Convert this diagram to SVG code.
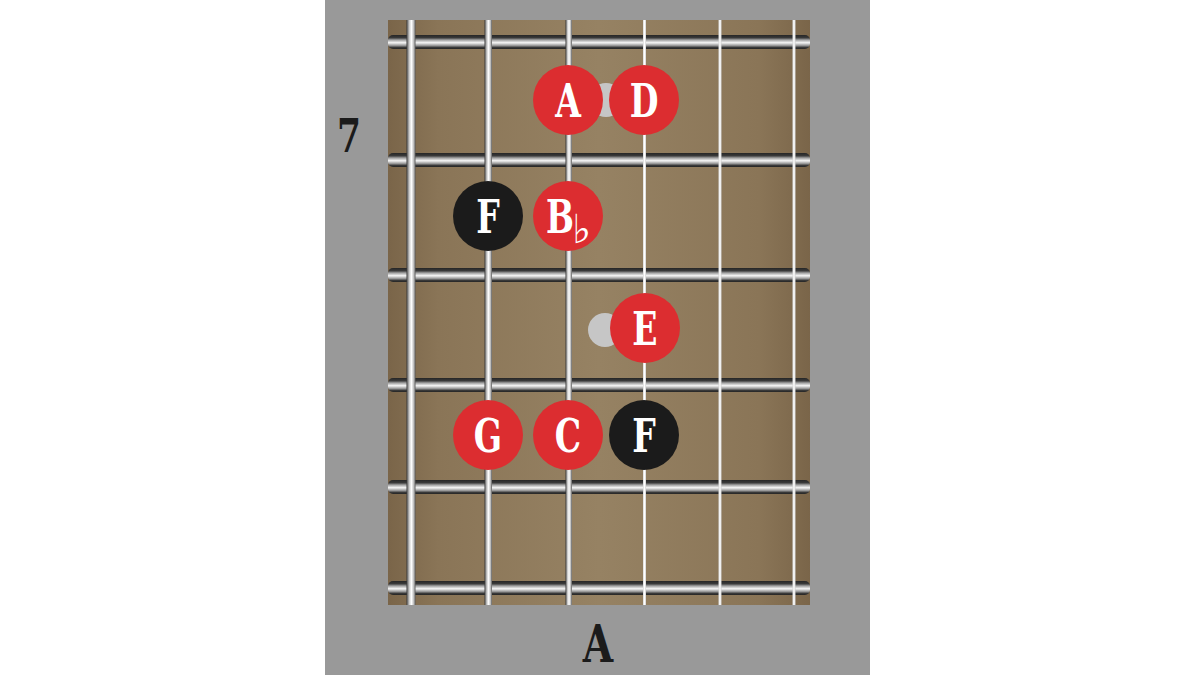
<svg xmlns="http://www.w3.org/2000/svg" width="1200" height="675" viewBox="0 0 1200 675">
<defs>
  <linearGradient id="wood" x1="0" y1="0" x2="1" y2="0">
    <stop offset="0" stop-color="#7a6549"/>
    <stop offset="0.12" stop-color="#8a7557"/>
    <stop offset="0.5" stop-color="#968263"/>
    <stop offset="0.88" stop-color="#8a7557"/>
    <stop offset="1" stop-color="#7a6549"/>
  </linearGradient>
  <linearGradient id="fret" x1="0" y1="0" x2="0" y2="1">
    <stop offset="0" stop-color="#262626"/>
    <stop offset="0.2" stop-color="#3a3a3a"/>
    <stop offset="0.35" stop-color="#a0a0a0"/>
    <stop offset="0.55" stop-color="#f6f6f6"/>
    <stop offset="0.75" stop-color="#9a9a9a"/>
    <stop offset="0.9" stop-color="#333"/>
    <stop offset="1" stop-color="#262626"/>
  </linearGradient>
  <linearGradient id="wound" x1="0" y1="0" x2="1" y2="0">
    <stop offset="0" stop-color="#3a3a3a"/>
    <stop offset="0.3" stop-color="#c8c8c8"/>
    <stop offset="0.55" stop-color="#ffffff"/>
    <stop offset="0.8" stop-color="#bdbdbd"/>
    <stop offset="1" stop-color="#5a5a5a"/>
  </linearGradient>
  <linearGradient id="plain" x1="0" y1="0" x2="1" y2="0">
    <stop offset="0" stop-color="#d8d8d8"/>
    <stop offset="0.5" stop-color="#ffffff"/>
    <stop offset="1" stop-color="#d0d0d0"/>
  </linearGradient>
  <style>
    .fret { fill: url(#fret); }
    .wound { fill: url(#wound); }
    .plain { fill: url(#plain); }
    .inlay { fill: #c6c6c6; }
    .red { fill: #dc2d30; }
    .blk { fill: #1b1b1b; }
    .lbl { font-family: "DejaVu Serif", "Liberation Serif", serif; font-weight: bold; font-size: 46px; fill: #ffffff; text-anchor: middle; }
    .flat { font-family: "DejaVu Sans", "Liberation Sans", sans-serif; font-size: 40px; fill: #ffffff; }
    .big { font-family: "DejaVu Serif", "Liberation Serif", serif; font-weight: bold; fill: #1b1b1b; text-anchor: middle; }
  </style>
</defs>
<rect x="0" y="0" width="1200" height="675" fill="#ffffff"/>
<rect x="325" y="0" width="545" height="675" fill="#999999"/>

<g id="fretboard">
  <rect x="388" y="20" width="422" height="585" fill="url(#wood)"/>
  <circle class="inlay" cx="606" cy="100" r="17"/>
  <circle class="inlay" cx="605" cy="330" r="17"/>
  <rect class="fret" x="388" y="35" width="422" height="14" rx="5"/>
  <rect class="fret" x="388" y="153" width="422" height="14" rx="5"/>
  <rect class="fret" x="388" y="268" width="422" height="14" rx="5"/>
  <rect class="fret" x="388" y="378" width="422" height="14" rx="5"/>
  <rect class="fret" x="388" y="480" width="422" height="14" rx="5"/>
  <rect class="fret" x="388" y="581" width="422" height="14" rx="5"/>
  <rect class="wound" x="406.5" y="20" width="9" height="585"/>
  <rect class="wound" x="484.5" y="20" width="7.5" height="585"/>
  <rect class="wound" x="565.5" y="20" width="6.5" height="585"/>
  <rect class="plain" x="643" y="20" width="3" height="585"/>
  <rect class="plain" x="718.5" y="20" width="3" height="585"/>
  <rect class="plain" x="792.5" y="20" width="3" height="585"/>
</g>

<g id="connectors"></g>

<g id="fret-number">
  <text class="big" font-size="46" transform="translate(349 152) scale(0.75 1)">7</text>
</g>
<g id="key-label">
  <text class="big" font-size="53" transform="translate(598 662) scale(0.74 1)">A</text>
</g>

<g id="note-A">
  <circle class="red" cx="568" cy="100" r="35"/>
  <text class="lbl" transform="translate(568 117) scale(0.72 1)">A</text>
</g>
<g id="note-D">
  <circle class="red" cx="644" cy="100" r="35"/>
  <text class="lbl" transform="translate(644 117) scale(0.72 1)">D</text>
</g>
<g id="note-F1">
  <circle class="blk" cx="488" cy="216" r="35"/>
  <text class="lbl" transform="translate(488 233) scale(0.72 1)">F</text>
</g>
<g id="note-Bb">
  <circle class="red" cx="568" cy="216" r="35"/>
  <text class="lbl" transform="translate(560 233) scale(0.72 1)">B</text>
  <text class="flat" x="572" y="243">♭</text>
</g>
<g id="note-E">
  <circle class="red" cx="645" cy="328" r="35"/>
  <text class="lbl" transform="translate(645 345) scale(0.72 1)">E</text>
</g>
<g id="note-G">
  <circle class="red" cx="488" cy="435" r="35"/>
  <text class="lbl" transform="translate(488 452) scale(0.72 1)">G</text>
</g>
<g id="note-C">
  <circle class="red" cx="568" cy="435" r="35"/>
  <text class="lbl" transform="translate(568 452) scale(0.72 1)">C</text>
</g>
<g id="note-F2">
  <circle class="blk" cx="644" cy="435" r="35"/>
  <text class="lbl" transform="translate(644 452) scale(0.72 1)">F</text>
</g>
</svg>
